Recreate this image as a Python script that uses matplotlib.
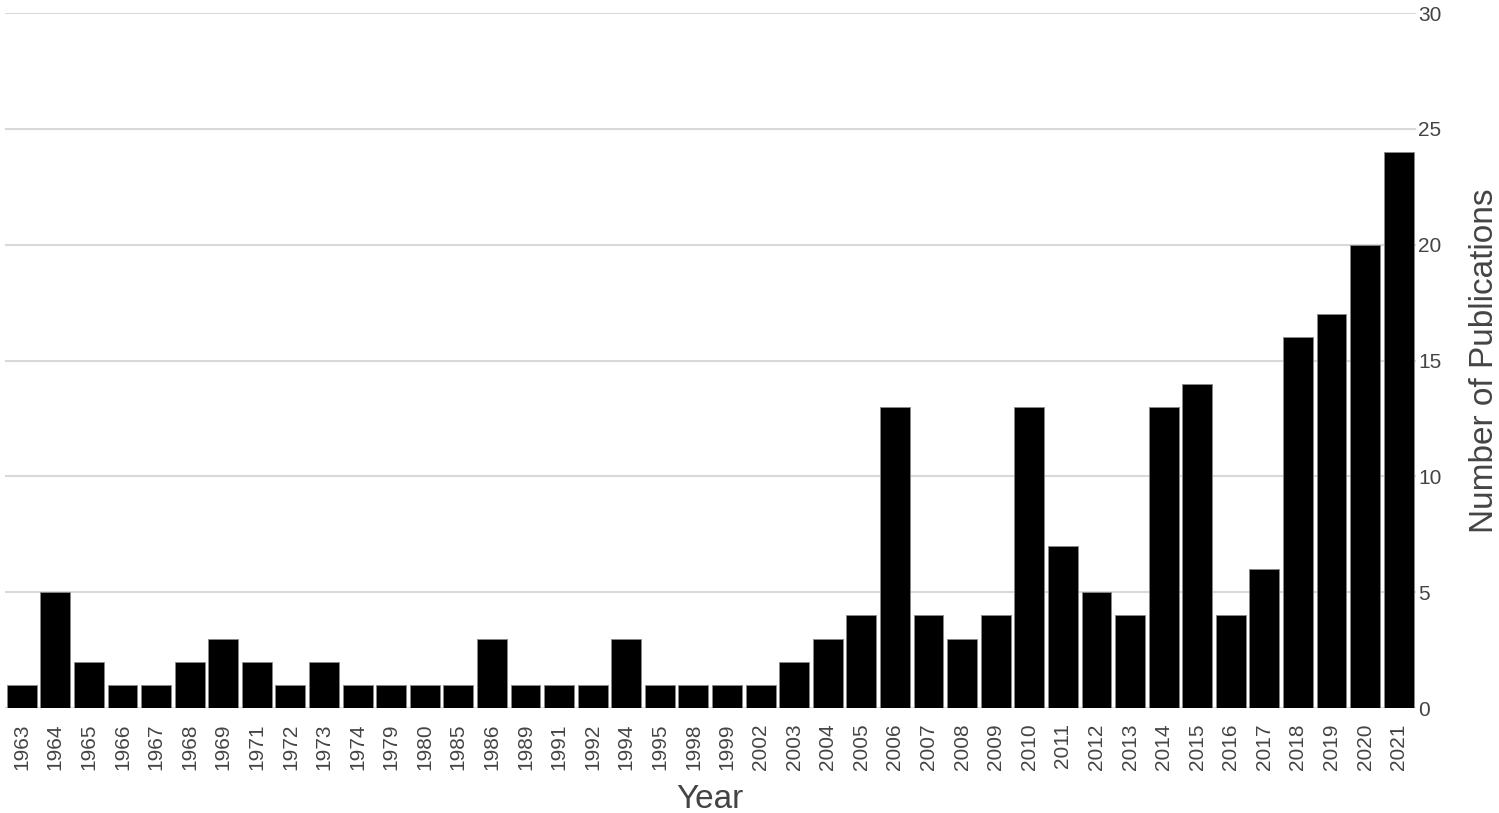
import matplotlib
matplotlib.use("Agg")
import matplotlib.pyplot as plt
import numpy as np

years = ["1963", "1964", "1965", "1966", "1967", "1968", "1969", "1971", "1972", "1973",
         "1974", "1979", "1980", "1985", "1986", "1989", "1991", "1992", "1994", "1995",
         "1998", "1999", "2002", "2003", "2004", "2005", "2006", "2007", "2008", "2009",
         "2010", "2011", "2012", "2013", "2014", "2015", "2016", "2017", "2018", "2019",
         "2020", "2021"]
counts = [1, 5, 2, 1, 1, 2, 3, 2, 1, 2,
          1, 1, 1, 1, 3, 1, 1, 1, 3, 1,
          1, 1, 1, 2, 3, 4, 13, 4, 3, 4,
          13, 7, 5, 4, 13, 14, 4, 6, 16, 17,
          20, 24]
yticks = [0, 5, 10, 15, 20, 25, 30]

plt.rcParams.update({"font.family": ["Liberation Sans", "DejaVu Sans"]})
txt = "#444444"

fig = plt.figure(figsize=(14.99, 8.13), dpi=100)
ax = fig.add_axes([0.0033, 0.129, 0.941, 0.855])

x = np.arange(len(years))
ax.bar(x, counts, width=0.89, color="black", edgecolor="#888888", linewidth=0.6, zorder=3)

ax.set_xlim(-0.5, len(years) - 0.5)
ax.set_ylim(0, 30)
ax.set_yticks(yticks)
ax.yaxis.tick_right()
ax.yaxis.set_label_position("right")
ax.grid(axis="y", color="#d9d9d9", lw=1.5, zorder=0)
for s in ax.spines.values():
    s.set_visible(False)
ax.tick_params(axis="both", length=0, colors=txt, labelsize=15)
ax.tick_params(axis="y", pad=2)
ax.tick_params(axis="x", pad=11)

ax.set_xticks(x)
ax.set_xticklabels(years, rotation=90)

ax.set_xlabel("Year", fontsize=24, color=txt, labelpad=10)
ax.set_ylabel("Number of Publications", fontsize=24, color=txt, labelpad=20)

fig.savefig("out.png", dpi=100)
